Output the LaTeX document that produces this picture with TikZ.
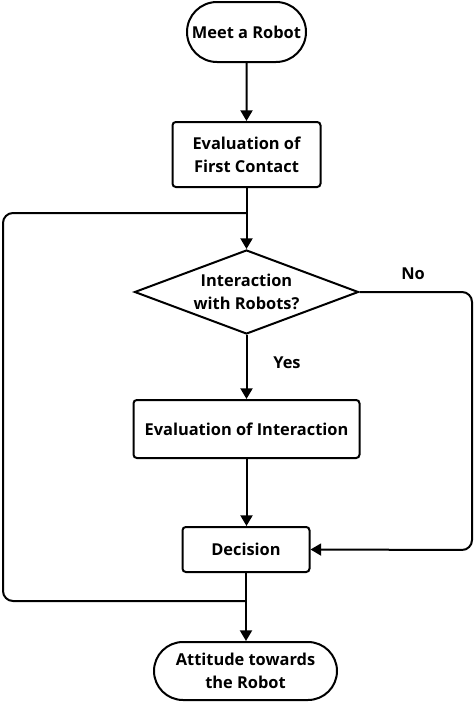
\documentclass[tikz,border=0pt]{standalone}
\usepackage{fontspec}
\setmainfont{Open Sans}
\usetikzlibrary{shapes.geometric,shapes.misc,arrows.meta}

\tikzset{
  terminal/.style={draw, line width=1.5pt, rounded rectangle, align=center, font=\bfseries\fontsize{12.3}{17.5}\selectfont, inner sep=0pt},
  process/.style={draw, line width=1.5pt, rounded corners=2.5pt, align=center, font=\bfseries\fontsize{12.3}{17.5}\selectfont, inner sep=0pt},
  decide/.style={draw, line width=1.5pt, diamond, aspect=2.67, align=center, font=\bfseries\fontsize{12.3}{17.5}\selectfont, inner sep=0pt},
  flow/.style={line width=1.5pt, -{Triangle[length=8pt,width=9pt]}},
  plain/.style={line width=1.5pt, rounded corners=7.5pt},
  lbl/.style={font=\bfseries\fontsize{12.3}{17.5}\selectfont, inner sep=0.75pt}
}

\begin{document}
\begin{tikzpicture}[x=0.75pt,y=0.75pt,yscale=-1,xscale=1]
\path[use as bounding box] (0,0) rectangle (474,703);

%Shape: Terminal [id:meet]
\node (meet) [terminal, minimum width=89.25pt, minimum height=45pt] at (246.5,32) {Meet a Robot};
%Shape: Rectangle [id:first]
\node (first) [process, minimum width=111pt, minimum height=48.75pt] at (246.5,154.5) {Evaluation of\\First Contact};
%Shape: Diamond [id:inter]
\node (inter) [decide, minimum width=168pt, minimum height=63pt] at (246.5,292) {Interaction\\with Robots?};
%Shape: Rectangle [id:evalint]
\node (evalint) [process, minimum width=169.5pt, minimum height=43.5pt] at (246.5,429) {Evaluation of Interaction};
%Shape: Rectangle [id:decision]
\node (decision) [process, minimum width=95.25pt, minimum height=33.75pt] at (246,549.5) {Decision};
%Shape: Terminal [id:attitude]
\node (attitude) [terminal, minimum width=137.25pt, minimum height=43.5pt] at (245.5,671) {Attitude towards\\the Robot};

% Junction points
\coordinate (jtop) at (246.5,213);
\coordinate (jbot) at (246,601);

% Text Node
\node (no) [lbl] at (413,274) {No};
% Text Node
\node (yes) [lbl] at (287,363) {Yes};

% Connection
\draw [flow] (meet) -- (first);
% Connection
\draw [flow] (first) -- (inter);
% Connection
\draw [flow] (inter) -- (evalint);
% Connection
\draw [flow] (evalint.south) -- (evalint.south |- decision.north);
% Connection
\draw [flow] (decision.south) -- (decision.south |- attitude.north);
% Connection
\draw [flow, rounded corners=7.5pt] (inter.east) -- (472,292) -- (472,550) -- (decision.east);
% Connection
\draw [plain] (jtop) -- (3,213) -- (3,601) -- (jbot);

\end{tikzpicture}
\end{document}
